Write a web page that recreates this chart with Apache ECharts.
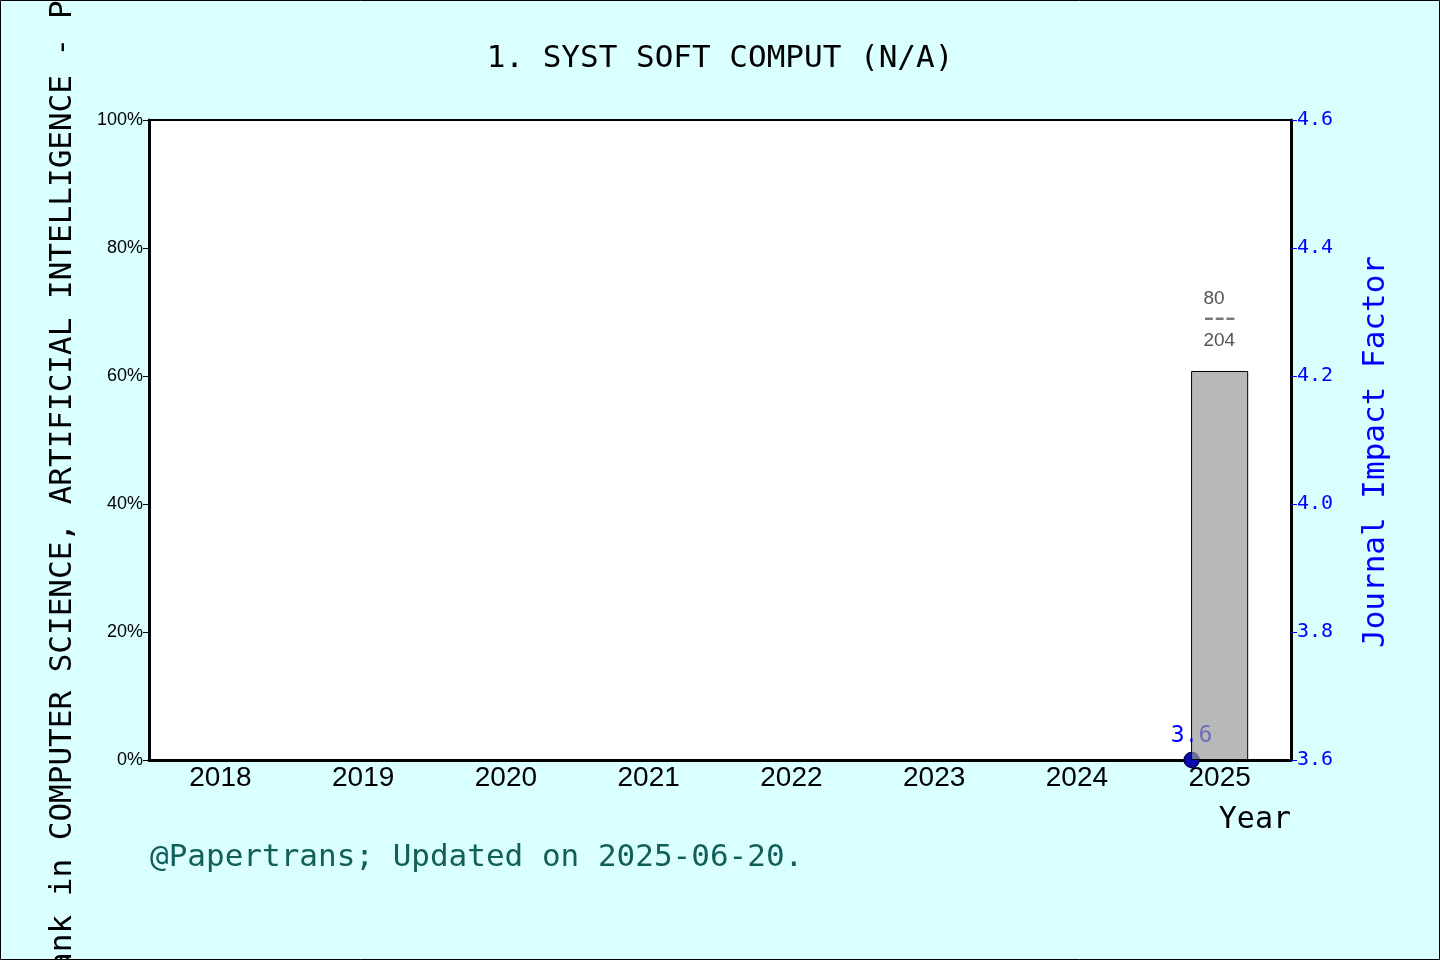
<!DOCTYPE html>
<html>
<head>
<meta charset="utf-8">
<script src="https://cdn.jsdelivr.net/npm/echarts@6/dist/echarts.min.js"></script>
<style>
html,body{margin:0;padding:0;background:#d9ffff;}
#chart{width:1440px;height:960px;}
</style>
</head>
<body>
<div id="chart"></div>
<script>
const titleText = '1. SYST SOFT COMPUT (N/A)';
const years = ['2018','2019','2020','2021','2022','2023','2024','2025'];
const ranks = [null, null, null, null, null, null, null, 80];
const totals = [null, null, null, null, null, null, null, 204];
const impactFactors = [null, null, null, null, null, null, null, 3.6];
const leftAxisName = 'Rank in COMPUTER SCIENCE, ARTIFICIAL INTELLIGENCE - Percentile';
const rightAxisName = 'Journal Impact Factor';
const footerText = '@Papertrans; Updated on 2025-06-20.';

const percentiles = ranks.map((r, i) => (r == null || totals[i] == null) ? null : (totals[i] - r) / totals[i] * 100);

const mono = 'DejaVu Sans Mono';
const sans = 'Liberation Sans';

const chart = echarts.init(document.getElementById('chart'));
chart.setOption({
  backgroundColor: '#d9ffff',
  animation: false,
  title: {
    text: titleText,
    left: 'center',
    top: 38,
    textStyle: { fontFamily: mono, fontSize: 31, fontWeight: 'normal', color: '#000' }
  },
  graphic: [
    {
      type: 'text',
      left: 150,
      top: 842,
      style: { text: footerText, font: '31px "DejaVu Sans Mono"', fill: '#115e5a' }
    },
    {
      type: 'rect',
      shape: { x: 0.5, y: 0.5, width: 1439, height: 959 },
      style: { fill: 'none', stroke: '#000', lineWidth: 1 },
      silent: true
    }
  ],
  grid: {
    left: 149, right: 149, top: 120, bottom: 200,
    containLabel: false,
    outerBoundsMode: 'none',
    show: true, backgroundColor: '#fff', borderColor: '#000', borderWidth: 2
  },
  xAxis: {
    type: 'category',
    data: years,
    axisLine: { lineStyle: { color: '#000', width: 3 } },
    axisTick: { inside: true, length: 6, lineStyle: { color: '#000', width: 1 } },
    axisLabel: { fontFamily: sans, fontSize: 28, color: '#000', margin: 4 },
    name: 'Year',
    nameLocation: 'end',
    nameGap: 0,
    nameTextStyle: { fontFamily: mono, fontSize: 30, color: '#000', align: 'right', verticalAlign: 'top', padding: [45, 0, 0, 0] }
  },
  yAxis: [
    {
      type: 'value',
      min: 0, max: 100, interval: 20,
      position: 'left',
      axisLine: { show: true, lineStyle: { color: '#000', width: 3 } },
      axisTick: { show: true, length: 6, lineStyle: { color: '#000', width: 1 } },
      axisLabel: { formatter: '{value}%', fontFamily: sans, fontSize: 18, color: '#000', margin: 6 },
      splitLine: { show: false },
      name: leftAxisName,
      nameLocation: 'middle',
      nameGap: 71,
      nameRotate: 90,
      nameTextStyle: { fontFamily: mono, fontSize: 31, color: '#000', padding: [0, 0, 0, 58] }
    },
    {
      type: 'value',
      min: 3.6, max: 4.6, interval: 0.2,
      position: 'right',
      axisLine: { show: true, lineStyle: { color: '#000', width: 3 } },
      axisTick: { show: true, length: 6, lineStyle: { color: '#0000ff', width: 1 } },
      axisLabel: { formatter: v => v.toFixed(1), fontFamily: mono, fontSize: 20, color: '#0000ff', margin: 6 },
      splitLine: { show: false },
      name: rightAxisName,
      nameLocation: 'middle',
      nameGap: 69,
      nameRotate: 90,
      nameTextStyle: { fontFamily: mono, fontSize: 31, color: '#0000ff', padding: [0, 24, 0, 0] }
    }
  ],
  series: [
    {
      type: 'line',
      yAxisIndex: 1,
      data: impactFactors,
      symbol: 'circle',
      symbolSize: 15,
      symbolOffset: [-28, 0],
      lineStyle: { color: '#0000ff', width: 2 },
      itemStyle: { color: '#0a0ab4', borderColor: '#000050', borderWidth: 1.5 },
      label: {
        show: true, position: 'top', distance: 4,
        formatter: p => p.value == null ? '' : Number(p.value).toFixed(1),
        fontFamily: mono, fontSize: 23, color: '#0000ff'
      },
      z: 2
    },
    {
      type: 'bar',
      yAxisIndex: 0,
      data: percentiles,
      barWidth: '40%',
      itemStyle: { color: 'rgba(153,154,156,0.7)', borderColor: '#000', borderWidth: 1 },
      label: {
        show: true, position: 'top', distance: 20,
        formatter: p => p.value == null ? '' : '{a|' + ranks[p.dataIndex] + '}\n{b|---}\n{a|' + totals[p.dataIndex] + '}',
        rich: {
          a: { fontFamily: sans, fontSize: 19, color: '#555', align: 'left', lineHeight: 21 },
          b: { fontFamily: 'DejaVu Sans', fontSize: 30, color: '#777', align: 'left', lineHeight: 21 }
        }
      },
      z: 3
    }
  ]
});
</script>
</body>
</html>
